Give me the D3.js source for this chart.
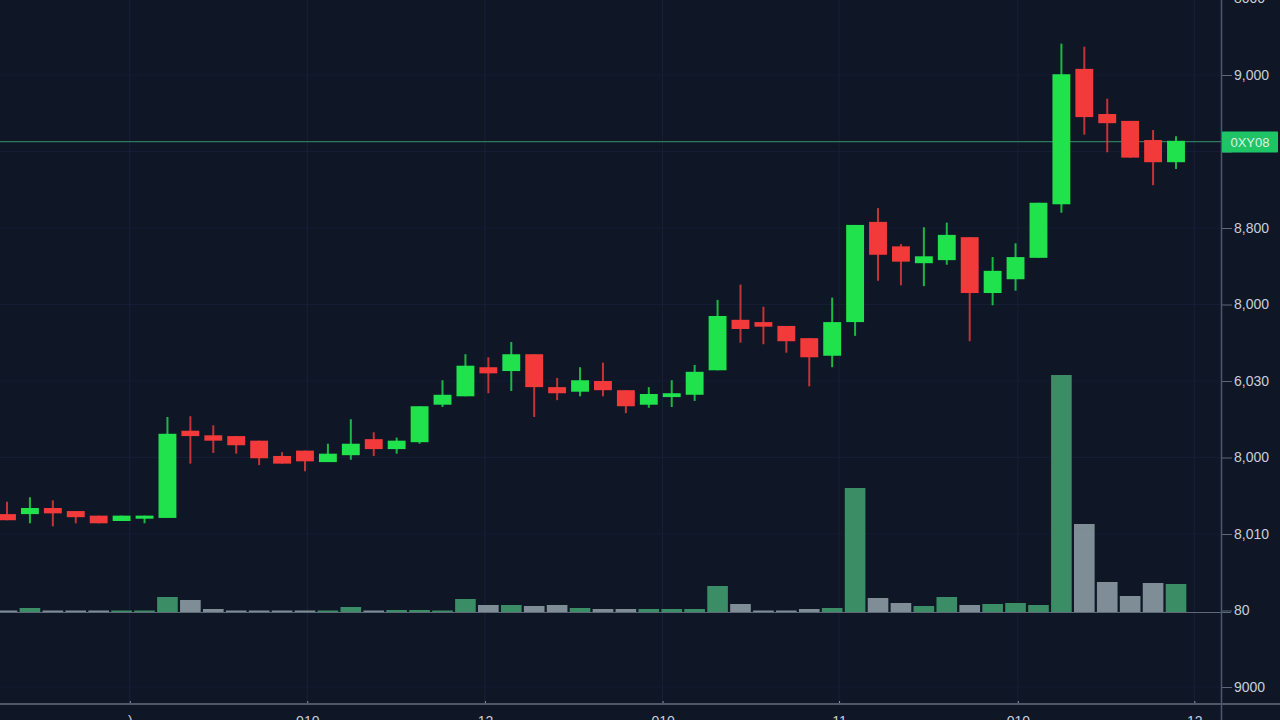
<!DOCTYPE html>
<html>
<head>
<meta charset="utf-8">
<script src="https://cdn.jsdelivr.net/npm/d3@7"></script>
<style>
html,body{margin:0;padding:0;background:#0f1727;overflow:hidden;}
svg{display:block;}
</style>
</head>
<body>
<svg id="chart" width="1280" height="720"></svg>
<script>
// ---- data ----
const opens  = [2260,2260,2340,2300,2240,2170,2200,2210,3350,3290,3280,3220,3020,3090,2940,3030,3240,3110,3200,3690,3800,4180,4130,4350,3920,3860,4000,3880,3690,3790,3820,4140,4800,4770,4720,4560,4330,4770,6080,5760,5540,5580,5880,5150,5330,5610,6310,8080,7490,7400,7150,6860];
const highs  = [2420,2480,2440,2300,2240,2240,2240,3530,3540,3420,3280,3220,3070,3090,3180,3500,3330,3260,3670,4010,4350,4310,4510,4350,4040,4180,4240,3880,3920,4010,4210,5060,5260,4970,4720,4560,5090,6040,6260,5790,6010,6070,5880,5620,5800,6330,8410,8370,7690,7400,7280,7200];
const lows   = [2180,2140,2100,2140,2140,2170,2140,2210,2920,3060,3050,2900,2920,2820,2940,2970,3020,3050,3180,3660,3800,3840,3870,3530,3750,3800,3800,3580,3650,3660,3740,4140,4500,4480,4370,3930,4180,4590,5310,5250,5240,5520,4520,4990,5180,5610,6200,7220,6990,6920,6560,6770];
const closes = [2180,2340,2270,2220,2140,2240,2240,3310,3280,3220,3160,2990,2920,2950,3050,3180,3110,3220,3670,3820,4200,4100,4350,3920,3840,4010,3880,3670,3830,3840,4120,4850,4680,4710,4520,4310,4770,6040,5650,5560,5630,5910,5150,5440,5620,6330,8010,7450,7370,6920,6860,7140];
const volumes = [15,40,15,15,15,15,15,150,120,30,15,15,15,15,15,50,15,20,20,15,130,70,70,60,70,40,30,30,30,30,30,260,80,15,15,30,40,1240,140,90,60,150,70,80,90,70,2370,880,300,160,290,280];

const priceTicks = [0,1000,2000,3000,4000,5000,6000,7000,8000,9000];
const priceTickLabels = ["9000","80","8,010","8,000","6,030","8,000","8,800","","9,000","8000"];
const timeTicks = [5.36,13.1,20.85,28.6,36.3,44.1,51.8];
const timeTickLabels = [")","010","12","010","11","010","12"];
const lastPrice = 7130;
const lastPriceLabel = "0XY08";

// ---- scales ----
const svg = d3.select("#chart");
const W = 1280, H = 720;
const axisX = 1221, axisY = 704;
const n = opens.length;
const x = d3.scaleLinear().domain([0, n - 1]).range([7, 1176]);
const step = x(1) - x(0);
const y = d3.scaleLinear().domain([0, 9000]).range([687, -1.5]);
const vol = d3.scaleLinear().domain([0, 2370]).range([612, 375]);

const data = opens.map((o, i) => ({i, o, h: highs[i], l: lows[i], c: closes[i], v: volumes[i], up: closes[i] >= o}));

const UP = "#1fe24c", DOWN = "#f23a3a";
const VUP = "#3f9a6c", VDOWN = "#8c9ba3";

svg.append("rect").attr("width", W).attr("height", H).attr("fill", "#0f1727");

// grid
const grid = svg.append("g");
grid.selectAll("line.vg").data(timeTicks).join("line")
  .attr("x1", d => x(d)).attr("x2", d => x(d))
  .attr("y1", 0).attr("y2", axisY)
  .attr("stroke", "#17213a").attr("stroke-width", 1);
grid.selectAll("line.hg").data(priceTicks.filter(t => t !== 1000)).join("line")
  .attr("x1", 0).attr("x2", axisX)
  .attr("y1", d => y(d)).attr("y2", d => y(d))
  .attr("stroke", "#131d33").attr("stroke-width", 1);

// volume baseline
svg.append("line")
  .attr("x1", 0).attr("x2", axisX + 10)
  .attr("y1", vol(0) + 0.5).attr("y2", vol(0) + 0.5)
  .attr("stroke", "#5d6878").attr("stroke-width", 1);

// volume bars
svg.append("g").selectAll("rect").data(data).join("rect")
  .attr("x", d => x(d.i) - step * 0.45)
  .attr("width", step * 0.9)
  .attr("y", d => vol(d.v))
  .attr("height", d => vol(0) - vol(d.v))
  .attr("fill", d => d.up ? VUP : VDOWN)
  .attr("opacity", 0.9);

// last price line
svg.append("line")
  .attr("x1", 0).attr("x2", axisX)
  .attr("y1", y(lastPrice)).attr("y2", y(lastPrice))
  .attr("stroke", "#2f7a5c").attr("stroke-width", 1.2);

// candles
const cg = svg.append("g");
cg.selectAll("line.wick").data(data).join("line")
  .attr("x1", d => x(d.i)).attr("x2", d => x(d.i))
  .attr("y1", d => y(d.h)).attr("y2", d => y(d.l))
  .attr("stroke", d => d.up ? UP : DOWN).attr("stroke-width", 2)
  .attr("opacity", 0.8);
cg.selectAll("rect.body").data(data).join("rect")
  .attr("x", d => x(d.i) - step * 0.39)
  .attr("width", step * 0.78)
  .attr("y", d => y(Math.max(d.o, d.c)))
  .attr("height", d => Math.max(2, Math.abs(y(d.o) - y(d.c))))
  .attr("fill", d => d.up ? UP : DOWN);

// right axis
const ra = svg.append("g").attr("transform", `translate(${axisX},0)`)
  .call(d3.axisRight(y).tickValues(priceTicks).tickSize(11).tickPadding(2)
        .tickFormat((d, i) => priceTickLabels[i]));
ra.select(".domain").remove();
ra.selectAll(".tick line").attr("stroke", "#5d6878");
ra.selectAll(".tick text").attr("fill", "#c9ced8")
  .attr("font-family", "Liberation Sans, Arial, sans-serif").attr("font-size", 14);
svg.append("line").attr("x1", axisX + 0.5).attr("x2", axisX + 0.5)
  .attr("y1", 0).attr("y2", H).attr("stroke", "#4e5869").attr("stroke-width", 1.5);

// bottom axis
const ba = svg.append("g").attr("transform", `translate(0,${axisY})`)
  .call(d3.axisBottom(x).tickValues(timeTicks).tickSize(-3).tickPadding(12)
        .tickFormat((d, i) => timeTickLabels[i]));
ba.select(".domain").remove();
ba.selectAll(".tick line").attr("stroke", "#8994a6");
ba.selectAll(".tick text").attr("fill", "#c9ced8")
  .attr("font-family", "Liberation Sans, Arial, sans-serif").attr("font-size", 14);
svg.append("line").attr("x1", 0).attr("x2", W)
  .attr("y1", axisY).attr("y2", axisY).attr("stroke", "#4e5869").attr("stroke-width", 2);

// last price tag
const tag = svg.append("g").attr("transform", `translate(${axisX + 1},${y(lastPrice)})`);
tag.append("rect").attr("x", 0).attr("y", -10).attr("width", 56).attr("height", 21)
  .attr("fill", "#1fc466").attr("rx", 1);
tag.append("text").attr("x", 28).attr("y", 5).attr("text-anchor", "middle")
  .attr("fill", "#dff2e6").attr("font-family", "Liberation Sans, Arial, sans-serif")
  .attr("font-size", 13).text(lastPriceLabel);
</script>
</body>
</html>
